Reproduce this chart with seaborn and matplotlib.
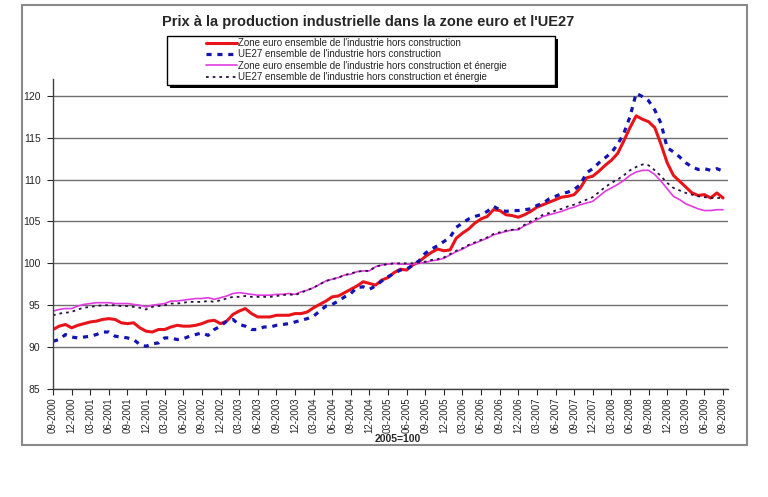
import matplotlib
matplotlib.use("Agg")
import matplotlib.pyplot as plt
from matplotlib.patches import Rectangle
import seaborn as sns
import pandas as pd

# monthly index values, 09-2000 .. 09-2009 (2005=100)
ze_total = [
    92.1, 92.5, 92.7, 92.3, 92.6, 92.8, 93.0, 93.1, 93.3, 93.4, 93.3, 92.9,
    92.8, 92.9, 92.3, 91.9, 91.8, 92.1, 92.1, 92.4, 92.6, 92.5, 92.5, 92.6,
    92.8, 93.1, 93.2, 92.8, 93.1, 93.9, 94.3, 94.6, 94.0, 93.6, 93.6, 93.6,
    93.8, 93.8, 93.8, 94.0, 94.0, 94.2, 94.7, 95.1, 95.5, 96.0, 96.1, 96.5,
    96.9, 97.3, 97.8, 97.6, 97.4, 98.0, 98.3, 98.9, 99.3, 99.2, 99.8, 100.2,
    100.8, 101.3, 101.7, 101.5, 101.6, 103.0, 103.6, 104.1, 104.8, 105.3, 105.6, 106.4,
    106.3, 105.8, 105.7, 105.5, 105.8, 106.2, 106.7, 107.0, 107.3, 107.6, 107.9, 108.0,
    108.2, 109.0, 110.2, 110.4, 111.0, 111.7, 112.3, 113.1, 114.6, 116.2, 117.6, 117.2,
    116.9, 116.2, 114.2, 112.0, 110.5, 109.8, 109.1, 108.4, 108.1, 108.2, 107.8, 108.4,
    107.8,
]
ue_total = [
    90.7, 90.9, 91.5, 91.2, 91.1, 91.2, 91.3, 91.5, 91.8, 91.8, 91.3, 91.2,
    91.1, 90.9, 90.3, 90.1, 90.4, 90.5, 91.1, 91.1, 90.9, 91.0, 91.3, 91.5,
    91.7, 91.4, 92.1, 92.5, 93.1, 93.3, 92.7, 92.5, 92.1, 92.1, 92.4, 92.4,
    92.6, 92.7, 92.8, 93.0, 93.2, 93.4, 93.7, 94.3, 94.9, 95.1, 95.5, 96.0,
    96.4, 97.1, 97.2, 96.9, 97.3, 97.9, 98.4, 98.8, 99.2, 99.3, 99.8, 100.3,
    101.2, 101.7, 102.1, 102.6, 103.1, 104.3, 104.8, 105.3, 105.6, 105.8, 106.2, 106.8,
    106.4, 106.2, 106.3, 106.3, 106.4, 106.5, 106.9, 107.2, 107.7, 108.0, 108.3, 108.5,
    108.8, 109.4, 110.8, 111.3, 112.0, 112.6, 113.2, 114.2, 115.5, 117.5, 120.3, 119.9,
    119.4, 118.3, 116.7, 113.8, 113.3, 112.7, 112.0, 111.5, 111.2, 111.3, 111.1, 111.3,
    111.0,
]
ze_excl = [
    94.3, 94.5, 94.6, 94.6, 94.9, 95.1, 95.2, 95.3, 95.3, 95.3, 95.2, 95.2,
    95.2, 95.1, 95.0, 94.8, 95.0, 95.1, 95.2, 95.5, 95.5, 95.6, 95.7, 95.8,
    95.8, 95.9, 95.7, 95.9, 96.1, 96.4, 96.5, 96.4, 96.3, 96.2, 96.2, 96.2,
    96.3, 96.3, 96.4, 96.3, 96.6, 96.8, 97.1, 97.5, 97.9, 98.1, 98.3, 98.6,
    98.7, 99.0, 99.1, 99.1, 99.6, 99.8, 99.9, 100.0, 99.9, 99.9, 99.9, 100.0,
    100.1, 100.3, 100.4, 100.6, 101.0, 101.4, 101.7, 102.1, 102.4, 102.7, 103.0, 103.4,
    103.6, 103.8, 104.0, 104.0, 104.5, 104.8, 105.2, 105.6, 105.8, 106.0, 106.2, 106.5,
    106.7, 107.0, 107.2, 107.4, 108.0, 108.6, 109.0, 109.4, 109.9, 110.5, 110.9, 111.1,
    111.1, 110.6, 109.8, 108.9, 108.0, 107.6, 107.1, 106.8, 106.5, 106.3, 106.3, 106.4,
    106.4,
]
ue_excl = [
    93.8, 94.0, 94.1, 94.2, 94.5, 94.7, 94.8, 94.9, 95.0, 95.0, 95.0, 94.9,
    94.9, 94.8, 94.7, 94.5, 94.8, 94.9, 95.0, 95.2, 95.2, 95.3, 95.4, 95.4,
    95.4, 95.5, 95.4, 95.6, 95.8, 96.0, 96.0, 96.1, 96.0, 96.0, 96.0, 96.0,
    96.1, 96.2, 96.3, 96.2, 96.5, 96.8, 97.1, 97.5, 97.9, 98.1, 98.3, 98.6,
    98.8, 99.0, 99.1, 99.1, 99.6, 99.8, 99.9, 100.0, 100.0, 100.0, 100.0, 100.1,
    100.2, 100.4, 100.5, 100.7, 101.1, 101.5, 101.8, 102.2, 102.5, 102.8, 103.1, 103.5,
    103.7, 103.9, 104.0, 104.1, 104.6, 105.0, 105.4, 105.8, 106.0, 106.3, 106.5, 106.8,
    107.0, 107.3, 107.6, 107.9, 108.5, 109.1, 109.6, 110.0, 110.5, 111.1, 111.5, 111.8,
    111.7, 111.1, 110.4, 109.6, 109.0, 108.7, 108.4, 108.2, 108.0, 107.9, 107.8, 107.8,
    107.8,
]

labels = [
    "Zone euro ensemble de l'industrie hors construction",
    "UE27 ensemble de l'industrie hors construction",
    "Zone euro ensemble de l'industrie hors construction et énergie",
    "UE27 ensemble de l'industrie hors construction et énergie",
]
months = pd.date_range("2000-09-01", periods=len(ze_total), freq="MS")
tick_labels = [m.strftime("%m-%Y") for m in months[::3]]

sns.set_style("white")
plt.rcParams["font.family"] = ["Liberation Sans", "DejaVu Sans"]

fig = plt.figure(figsize=(7.68, 4.97), dpi=100)
W, H = 768, 497
ax = fig.add_axes([53 / W, 1 - 389 / H, (728 - 53) / W, (389 - 79) / H])

x = list(range(len(months)))
styles = [
    dict(color="#e8141a", lw=2.2, ls="-"),
    dict(color="#1414b4", lw=2.3, ls=(0, (1.6, 1.8))),
    dict(color="#e03ce0", lw=1.2, ls="-"),
    dict(color="#2a1040", lw=1.3, ls=(0, (1.5, 2.2))),
]
for series, lab, st in zip([ze_total, ue_total, ze_excl, ue_excl], labels, styles):
    sns.lineplot(x=x, y=series, ax=ax, label=lab, **st)

ax.set_xlim(0, 108.8)
ax.set_ylim(85, 122)
ax.set_yticks(range(85, 121, 5))
ax.set_xticks(x[::3])
ax.set_xticklabels(tick_labels, rotation=90, fontsize=7)
ax.tick_params(axis="y", labelsize=7.5, length=4, width=0.8, direction="out", pad=5, left=True)
ax.tick_params(axis="x", length=4, width=0.8, direction="out", pad=2, bottom=True)
ax.grid(axis="y", color="#707070", lw=1.0)
ax.set_axisbelow(True)
for s in ["top", "right"]:
    ax.spines[s].set_visible(False)
for s in ["left", "bottom"]:
    ax.spines[s].set_color("#404040")
    ax.spines[s].set_linewidth(1.0)
ax.set_xlabel("")
ax.set_ylabel("")

# legend inside a boxed frame with a solid shadow
handles, hlabels = ax.get_legend_handles_labels()
ax.get_legend().remove()
box = Rectangle((167 / W, 1 - 85 / H), (555 - 167) / W, (85 - 36) / H,
                transform=fig.transFigure, facecolor="white", edgecolor="black",
                lw=1.0, zorder=3)
shadow = Rectangle((170 / W, 1 - 88 / H), (555 - 167) / W, (85 - 36) / H,
                   transform=fig.transFigure, facecolor="black", edgecolor="black",
                   lw=0, zorder=2)
fig.patches.extend([shadow, box])
leg = fig.legend(handles, hlabels, loc="upper left", bbox_to_anchor=(205 / W, 1 - 37 / H),
                 frameon=False, fontsize=7, handlelength=3.2, handletextpad=0.1,
                 labelspacing=0.15, borderaxespad=0, borderpad=0.1)
leg.set_zorder(5)

fig.text(368 / W, 1 - 22 / H, "Prix à la production industrielle dans la zone euro et l'UE27",
         ha="center", va="center", fontsize=10.5, weight="bold")
fig.text(398 / W, 1 - 439 / H, "2005=100", ha="center", va="center",
         fontsize=7.5, weight="bold")

frame = Rectangle((22 / W, 1 - 445 / H), (747 - 22) / W, (445 - 5) / H,
                  transform=fig.transFigure, fill=False, edgecolor="#8a8a8a", lw=1.5)
fig.patches.append(frame)

fig.savefig("out.png", dpi=100)
